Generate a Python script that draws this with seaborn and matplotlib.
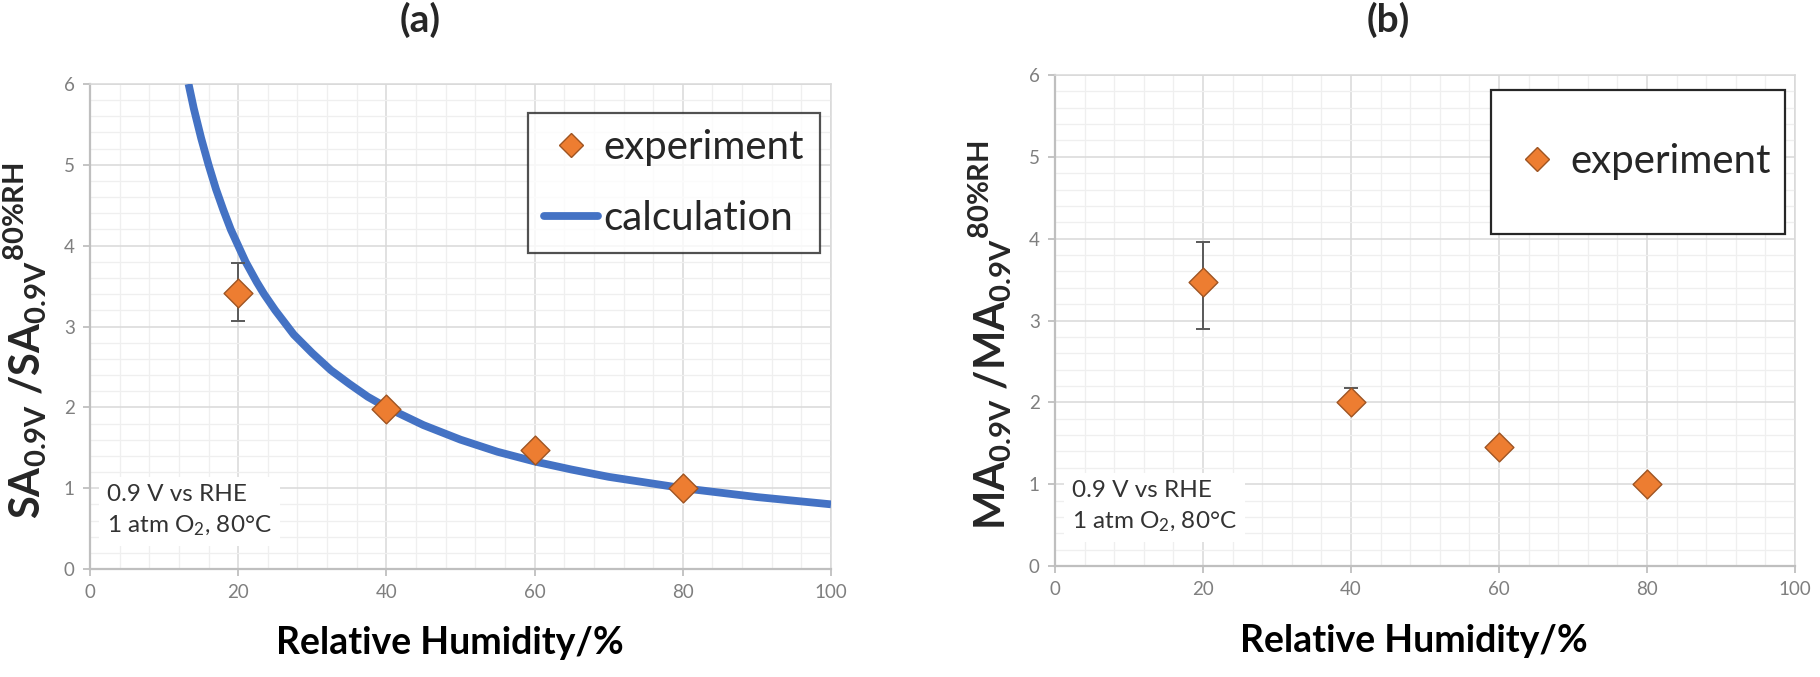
import matplotlib
matplotlib.use("Agg")
import matplotlib.pyplot as plt
from matplotlib.lines import Line2D
from matplotlib.ticker import MultipleLocator
import seaborn as sns

# ---- data ----
rh = [20, 40, 60, 80]

sa_ratio = [3.42, 1.98, 1.47, 1.0]
sa_err_lo = [0.355, 0.0, 0.0, 0.0]
sa_err_hi = [0.37, 0.0, 0.0, 0.0]

ma_ratio = [3.465, 2.01, 1.46, 1.0]
ma_err_lo = [0.565, 0.05, 0.0, 0.0]
ma_err_hi = [0.49, 0.16, 0.0, 0.0]

calc_rh = [13.3, 14, 15, 16, 17, 18, 19, 20, 21, 22.5, 23.5, 25, 27.5, 30,
           32.5, 35, 37.5, 40, 45, 50, 55, 60, 65, 70, 75, 80, 90, 100]
calc_ratio = [6.0, 5.7, 5.33, 5.0, 4.7, 4.44, 4.2, 4.0, 3.8, 3.55, 3.4, 3.2,
              2.9, 2.67, 2.46, 2.29, 2.13, 2.0, 1.78, 1.6, 1.45, 1.33, 1.23,
              1.14, 1.07, 1.0, 0.89, 0.8]

ORANGE = "#ED7D31"
ORANGE_EDGE = "#9E5422"
BLUE = "#4472C4"

sns.set_theme(style="white")
plt.rcParams["font.family"] = ["Lato", "DejaVu Sans"]
plt.rcParams["mathtext.fontset"] = "custom"
plt.rcParams["mathtext.rm"] = "Lato"
plt.rcParams["mathtext.it"] = "Lato:italic"
plt.rcParams["mathtext.bf"] = "Lato:bold"

fig = plt.figure(figsize=(18.2, 6.77), dpi=100)
W, H = 1820, 677
ax_a = fig.add_axes([90 / W, 1 - 569 / H, 741 / W, 485 / H])
ax_b = fig.add_axes([1055 / W, 1 - 566 / H, 740 / W, 491 / H])


def style_axes(ax):
    ax.set_xlim(0, 100)
    ax.set_ylim(0, 6)
    ax.xaxis.set_major_locator(MultipleLocator(20))
    ax.xaxis.set_minor_locator(MultipleLocator(4))
    ax.yaxis.set_major_locator(MultipleLocator(1))
    ax.yaxis.set_minor_locator(MultipleLocator(0.2))
    ax.grid(which="major", color="#d9d9d9", linewidth=1.1)
    ax.grid(which="minor", color="#efefef", linewidth=0.9)
    ax.set_axisbelow(True)
    for side in ["top", "right"]:
        ax.spines[side].set_color("#d9d9d9")
        ax.spines[side].set_linewidth(1.1)
    for side in ["left", "bottom"]:
        ax.spines[side].set_color("#bfbfbf")
        ax.spines[side].set_linewidth(1.6)
    ax.tick_params(which="major", direction="out", length=5, width=1.3,
                   color="#bfbfbf", labelsize=13.5, labelcolor="#7f7f7f",
                   left=True, bottom=True, pad=6)
    ax.tick_params(which="minor", length=0)
    ax.set_xlabel("Relative Humidity/%", fontsize=27, fontweight="bold",
                  color="black")
    ax.xaxis.set_label_coords(0.485, -0.118)
    ax.text(2.3, 1.05, "0.9 V vs RHE\n1 atm O$_2$, 80°C", fontsize=17.5,
            color="#333333", va="top", ha="left", linespacing=1.45,
            zorder=2,
            bbox=dict(facecolor="white", edgecolor="none", pad=6))


style_axes(ax_a)
style_axes(ax_b)

# ---- panel (a) ----
sns.lineplot(x=calc_rh, y=calc_ratio, ax=ax_a, color=BLUE, linewidth=5.6,
             solid_capstyle="butt", solid_joinstyle="round", zorder=3)
ax_a.errorbar(rh, sa_ratio, yerr=[sa_err_lo, sa_err_hi], fmt="none",
              ecolor="#595959", elinewidth=1.4, capsize=5, capthick=1.4,
              zorder=4)
sns.scatterplot(x=rh, y=sa_ratio, ax=ax_a, marker="D", s=215, color=ORANGE,
                edgecolor=ORANGE_EDGE, linewidth=1.0, zorder=5)
ax_a.set_ylabel(r"SA$_{\mathbf{0.9V}}$ /SA$_{\mathbf{0.9V}}{}^{\mathbf{80\%RH}}$",
                fontsize=30, fontweight="bold")
ax_a.yaxis.set_label_coords(-0.055, 0.47)
ax_a.set_title("(a)", fontsize=28, fontweight="bold", x=0.445, y=1.09)

handles_a = [
    Line2D([], [], marker="D", linestyle="none", markersize=12,
           markerfacecolor=ORANGE, markeredgecolor=ORANGE_EDGE),
    Line2D([], [], color=BLUE, linewidth=5.6, solid_capstyle="round"),
]
leg_a = ax_a.legend(handles_a, ["experiment", "calculation"], fontsize=29,
                    loc="upper left", bbox_to_anchor=((528 - 90) / 741, (569 - 113) / 485),
                    frameon=True, fancybox=False, edgecolor="#262626",
                    borderpad=0.4, labelspacing=0.85, handlelength=1.35,
                    handletextpad=0.12, borderaxespad=0)
leg_a.get_frame().set_linewidth(1.6)

# ---- panel (b) ----
ax_b.errorbar(rh, ma_ratio, yerr=[ma_err_lo, ma_err_hi], fmt="none",
              ecolor="#595959", elinewidth=1.4, capsize=5, capthick=1.4,
              zorder=4)
sns.scatterplot(x=rh, y=ma_ratio, ax=ax_b, marker="D", s=215, color=ORANGE,
                edgecolor=ORANGE_EDGE, linewidth=1.0, zorder=5)
ax_b.set_ylabel(r"MA$_{\mathbf{0.9V}}$ /MA$_{\mathbf{0.9V}}{}^{\mathbf{80\%RH}}$",
                fontsize=30, fontweight="bold")
ax_b.yaxis.set_label_coords(-0.055, 0.47)
ax_b.set_title("(b)", fontsize=28, fontweight="bold", x=0.45, y=1.07)

handles_b = [
    Line2D([], [], marker="D", linestyle="none", markersize=12,
           markerfacecolor=ORANGE, markeredgecolor=ORANGE_EDGE),
]
leg_b = ax_b.legend(handles_b, ["experiment"], fontsize=29,
                    loc="center", bbox_to_anchor=((1640 - 1055) / 740, (566 - 162) / 491),
                    frameon=False, handlelength=1.4, handletextpad=0.12)
frame_b = plt.Rectangle(((1491 - 1055) / 740, (566 - 234) / 491),
                        294 / 740, 144 / 491, transform=ax_b.transAxes,
                        fill=True, facecolor="white", edgecolor="#262626",
                        linewidth=1.6, zorder=6)
ax_b.add_patch(frame_b)
leg_b.set_zorder(7)

fig.savefig("out.png", dpi=100)
